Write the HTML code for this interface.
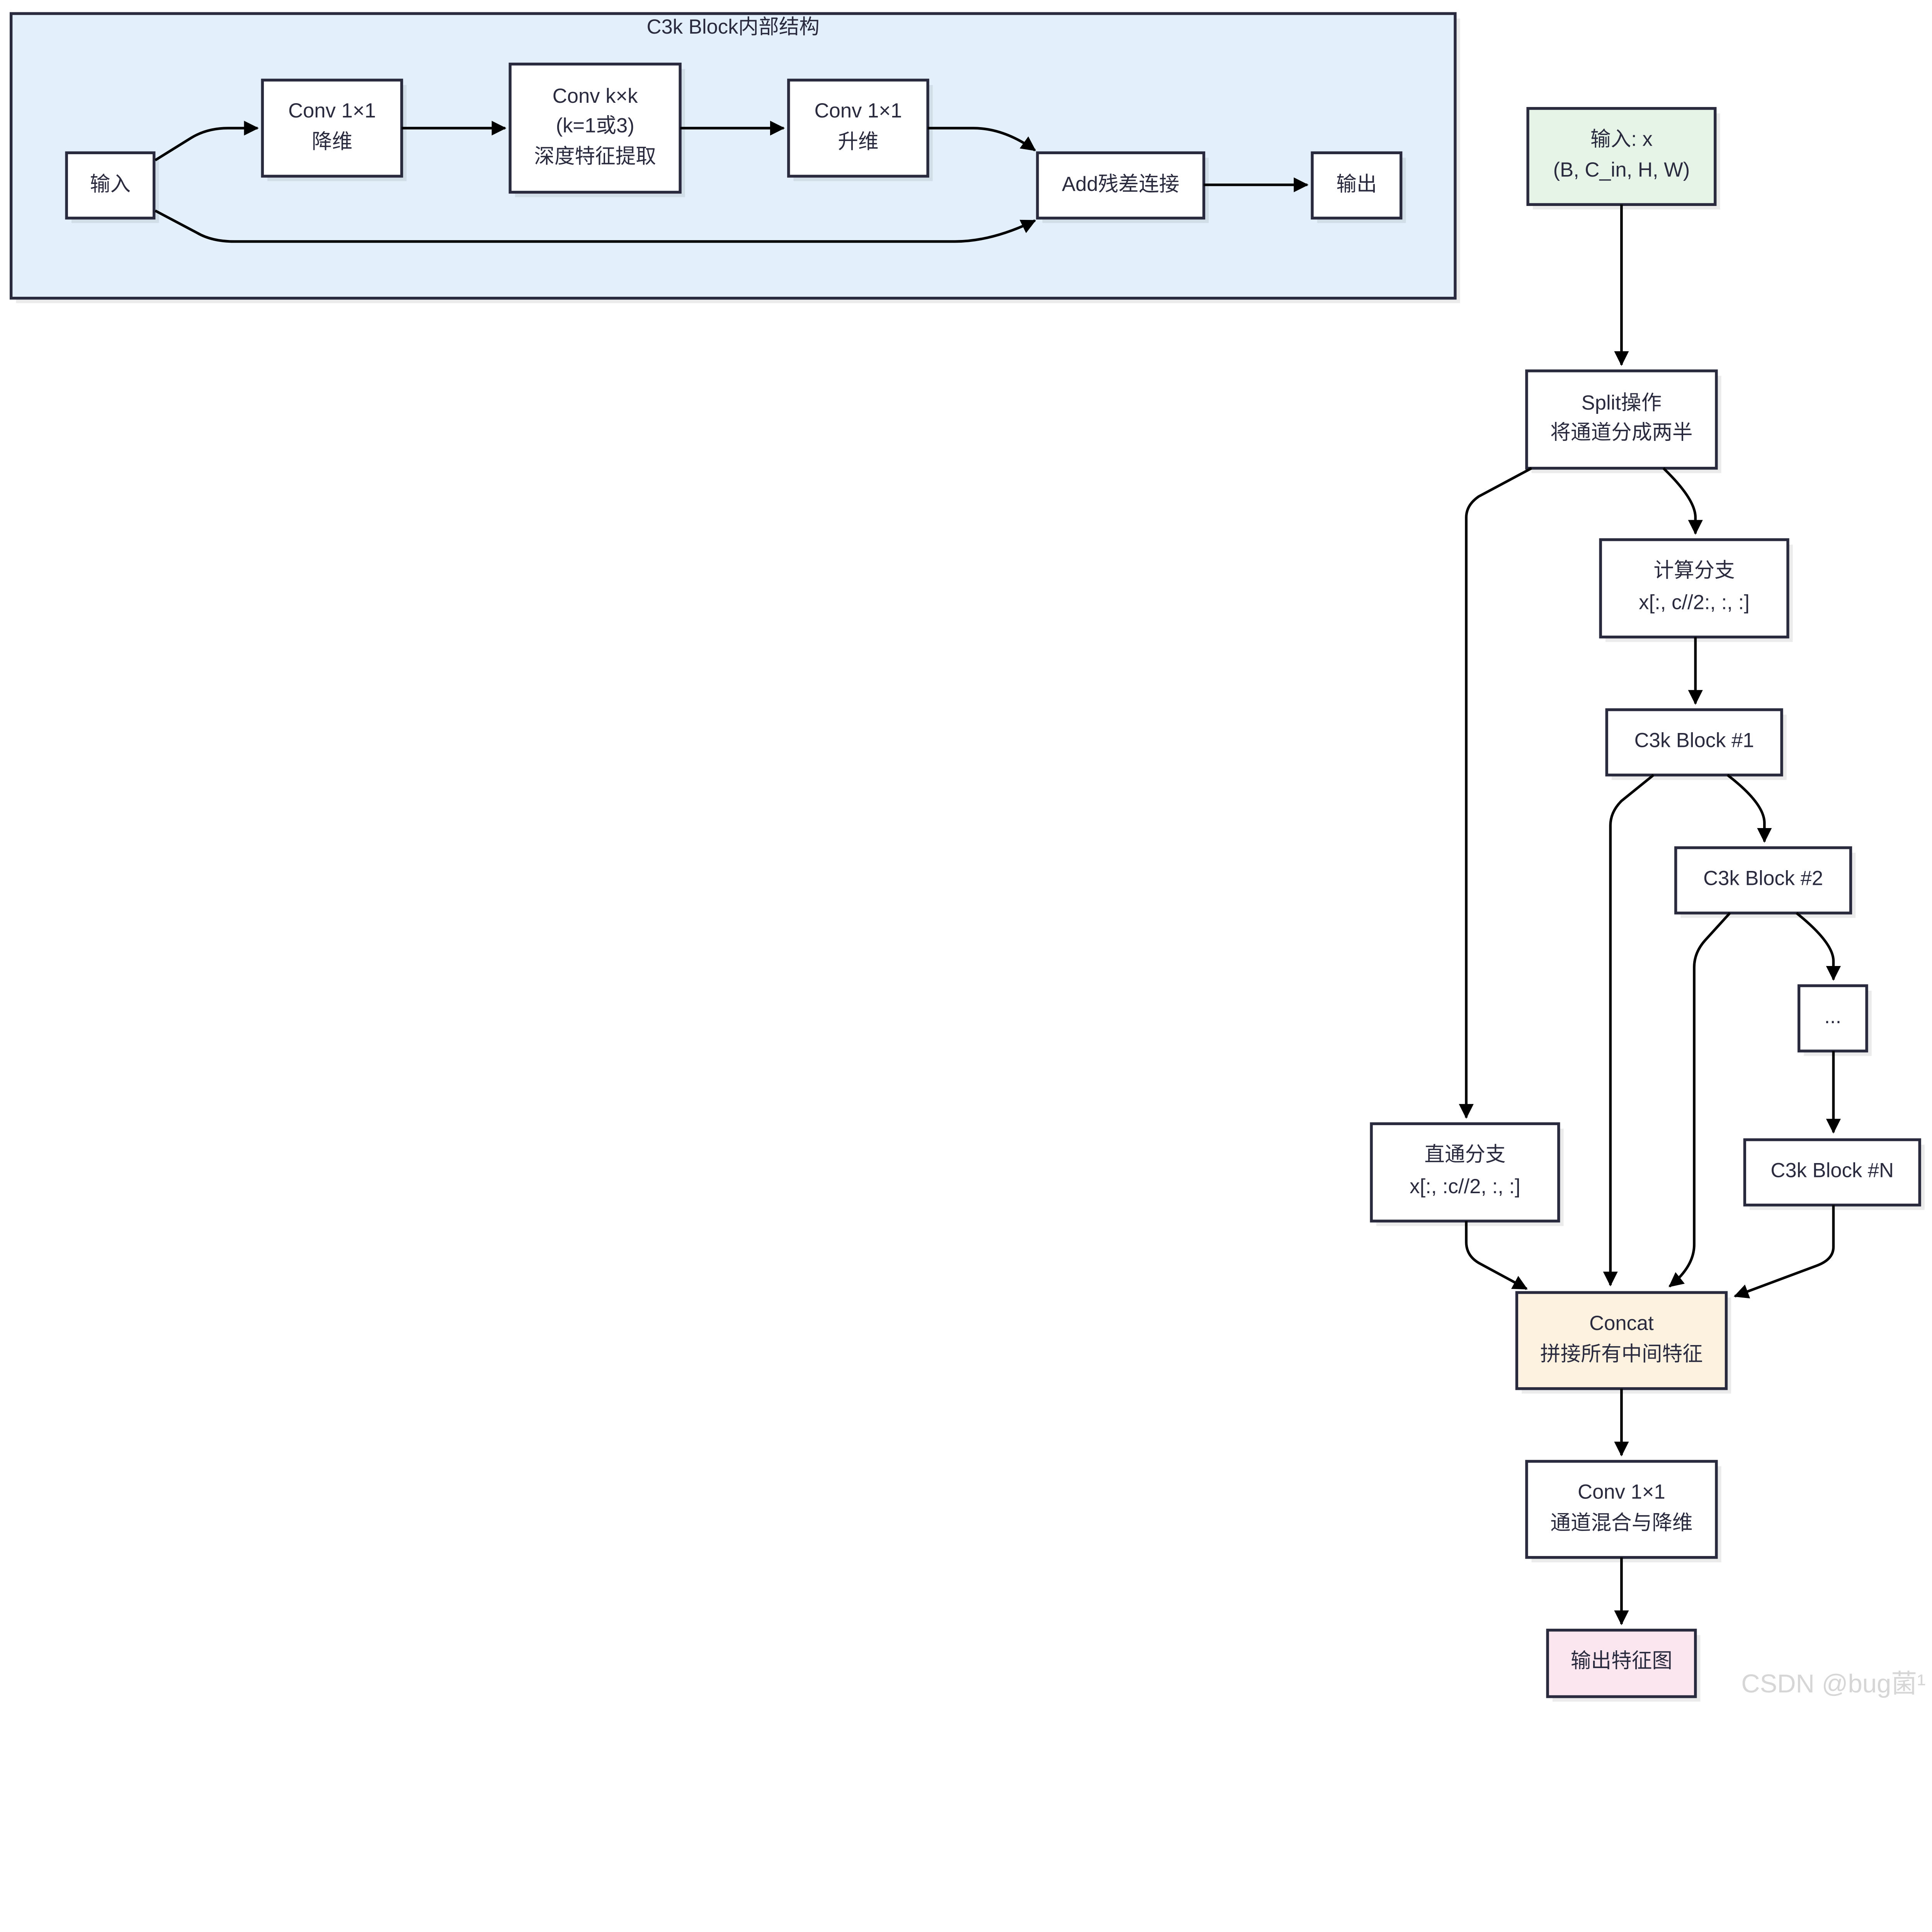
<!DOCTYPE html>
<html><head><meta charset="utf-8"><style>
html,body{margin:0;padding:0;background:#fff;width:100vw;overflow:hidden;}
svg{display:block;width:100vw;height:88.489vw;}
text{font-family:"Liberation Sans","Noto Sans CJK SC",sans-serif;fill:#2a2a3e;text-anchor:middle;dominant-baseline:middle;font-size:16.5px;}
.b{stroke:#2a2a3e;stroke-width:2.3;}
.e{fill:none;stroke:#000;stroke-width:2.1;marker-end:url(#a);}
.s{fill:#000;opacity:0.08;}
</style></head><body>
<svg viewBox="0 0 1568 1387.5" preserveAspectRatio="none" xmlns="http://www.w3.org/2000/svg">
<defs><marker id="a" markerUnits="userSpaceOnUse" markerWidth="12" markerHeight="12" viewBox="0 0 12 12" refX="11" refY="6" orient="auto"><path d="M0,0 L12,6 L0,12 z" fill="#000"/></marker></defs>
<rect width="1568" height="1387.5" fill="#fff"/>
<rect class="s" x="13" y="15" width="1172" height="231"/>
<rect x="9" y="11" width="1172" height="231" fill="#e3f0fb" class="b"/>
<text x="595" y="23">C3k Block内部结构</text>
<rect class="s" x="58" y="128" width="71" height="53"/><rect x="54" y="124" width="71" height="53" fill="#fff" class="b"/><text x="89.5" y="150.5">输入</text>
<rect class="s" x="217" y="69" width="113" height="78"/><rect x="213" y="65" width="113" height="78" fill="#fff" class="b"/><text x="269.5" y="91">Conv 1×1</text><text x="269.5" y="116">降维</text>
<rect class="s" x="418" y="56" width="138" height="104"/><rect x="414" y="52" width="138" height="104" fill="#fff" class="b"/><text x="483" y="79">Conv k×k</text><text x="483" y="103">(k=1或3)</text><text x="483" y="128">深度特征提取</text>
<rect class="s" x="644" y="69" width="113" height="78"/><rect x="640" y="65" width="113" height="78" fill="#fff" class="b"/><text x="696.5" y="91">Conv 1×1</text><text x="696.5" y="116">升维</text>
<rect class="s" x="846" y="128" width="135" height="53"/><rect x="842" y="124" width="135" height="53" fill="#fff" class="b"/><text x="909.5" y="150.5">Add残差连接</text>
<rect class="s" x="1069" y="128" width="72" height="53"/><rect x="1065" y="124" width="72" height="53" fill="#fff" class="b"/><text x="1101" y="150.5">输出</text>
<path class="e" d="M126,130 L155,112 Q168,104 185,104 L209,104"/>
<path class="e" d="M326,104 L410,104"/>
<path class="e" d="M552,104 L636,104"/>
<path class="e" d="M753,104 L790,104 Q815,104 840,122"/>
<path class="e" d="M126,171 L160,189 Q172,196 190,196 L775,196 Q805,196 840,179"/>
<path class="e" d="M977,150 L1061,150"/>
<rect class="s" x="1244" y="92" width="152" height="78"/><rect x="1240" y="88" width="152" height="78" fill="#e6f4e8" class="b"/><text x="1316" y="114">输入: x</text><text x="1316" y="139">(B, C_in, H, W)</text>
<rect class="s" x="1243" y="305" width="154" height="79"/><rect x="1239" y="301" width="154" height="79" fill="#fff" class="b"/><text x="1316" y="328">Split操作</text><text x="1316" y="352">将通道分成两半</text>
<rect class="s" x="1303" y="442" width="152" height="79"/><rect x="1299" y="438" width="152" height="79" fill="#fff" class="b"/><text x="1375" y="464">计算分支</text><text x="1375" y="490">x[:, c//2:, :, :]</text>
<rect class="s" x="1308" y="580" width="142" height="53"/><rect x="1304" y="576" width="142" height="53" fill="#fff" class="b"/><text x="1375" y="602">C3k Block #1</text>
<rect class="s" x="1364" y="692" width="142" height="53"/><rect x="1360" y="688" width="142" height="53" fill="#fff" class="b"/><text x="1431" y="714">C3k Block #2</text>
<rect class="s" x="1464" y="804" width="55" height="53"/><rect x="1460" y="800" width="55" height="53" fill="#fff" class="b"/><text x="1487.5" y="826">...</text>
<rect class="s" x="1420" y="929" width="142" height="53"/><rect x="1416" y="925" width="142" height="53" fill="#fff" class="b"/><text x="1487" y="951">C3k Block #N</text>
<rect class="s" x="1117" y="916" width="152" height="79"/><rect x="1113" y="912" width="152" height="79" fill="#fff" class="b"/><text x="1189" y="938">直通分支</text><text x="1189" y="964">x[:, :c//2, :, :]</text>
<rect class="s" x="1235" y="1053" width="170" height="78"/><rect x="1231" y="1049" width="170" height="78" fill="#fdf2e0" class="b"/><text x="1316" y="1075">Concat</text><text x="1316" y="1100">拼接所有中间特征</text>
<rect class="s" x="1243" y="1190" width="154" height="78"/><rect x="1239" y="1186" width="154" height="78" fill="#fff" class="b"/><text x="1316" y="1212">Conv 1×1</text><text x="1316" y="1237">通道混合与降维</text>
<rect class="s" x="1260" y="1327" width="120" height="54"/><rect x="1256" y="1323" width="120" height="54" fill="#fbe5ee" class="b"/><text x="1316" y="1349">输出特征图</text>
<path class="e" d="M1316,166 L1316,296"/>
<path class="e" d="M1350,380 Q1376,405 1376,420 L1376,433"/>
<path class="e" d="M1243,380 L1200,403 Q1190,410 1190,420 L1190,907"/>
<path class="e" d="M1376,517 L1376,571"/>
<path class="e" d="M1402,629 Q1432,652 1432,668 L1432,683"/>
<path class="e" d="M1342,629 L1316,650 Q1307,659 1307,670 L1307,1043"/>
<path class="e" d="M1458,741 Q1488,765 1488,780 L1488,795"/>
<path class="e" d="M1404,741 L1384,763 Q1375,773 1375,785 L1375,1010 Q1375,1028 1355,1044"/>
<path class="e" d="M1488,853 L1488,919"/>
<path class="e" d="M1488,978 L1488,1012 Q1488,1022 1475,1027 L1408,1052"/>
<path class="e" d="M1190,991 L1190,1008 Q1190,1020 1202,1026 L1239,1046"/>
<path class="e" d="M1316,1127 L1316,1181"/>
<path class="e" d="M1316,1264 L1316,1318"/>
<text x="1488" y="1368" style="fill:#d6d6d6;font-size:21px;">CSDN @bug菌¹</text>
</svg>
</body></html>
